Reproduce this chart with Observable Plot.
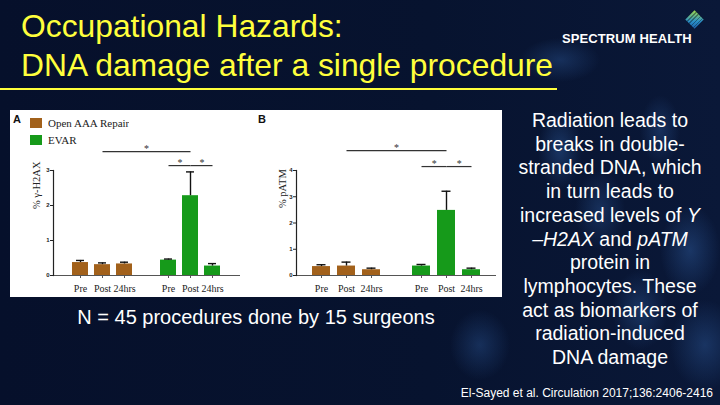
<!DOCTYPE html>
<html>
<head>
<meta charset="utf-8">
<script src="https://cdn.jsdelivr.net/npm/d3@7"></script>
<script src="https://cdn.jsdelivr.net/npm/@observablehq/plot@0.6"></script>
<style>
  html, body { margin: 0; padding: 0; }
  body { width: 720px; height: 405px; overflow: hidden; }
  #slide {
    position: relative; width: 720px; height: 405px; overflow: hidden;
    background:
      radial-gradient(ellipse 22px 40px at 560px 150px, rgba(40,80,140,0.55), rgba(40,80,140,0) 100%),
      radial-gradient(ellipse 30px 45px at 690px 250px, rgba(40,80,140,0.55), rgba(40,80,140,0) 100%),
      radial-gradient(ellipse 28px 40px at 640px 310px, rgba(40,80,140,0.5), rgba(40,80,140,0) 100%),
      radial-gradient(ellipse 35px 45px at 705px 345px, rgba(40,80,140,0.5), rgba(40,80,140,0) 100%),
      radial-gradient(ellipse 30px 35px at 480px 345px, rgba(40,80,140,0.45), rgba(40,80,140,0) 100%),
      radial-gradient(ellipse 40px 22px at 560px 60px, rgba(40,80,140,0.45), rgba(40,80,140,0) 100%),
      radial-gradient(ellipse 25px 40px at 600px 210px, rgba(40,80,140,0.45), rgba(40,80,140,0) 100%),
      radial-gradient(ellipse 20px 35px at 660px 130px, rgba(40,80,140,0.45), rgba(40,80,140,0) 100%),
      linear-gradient(90deg, #06102b 0%, #07132f 60%, #0a1838 100%);
    font-family: "Liberation Sans", Arial, sans-serif;
  }
  .title { position: absolute; left: 21px; color: #ffff3c; font-size: 31.8px; white-space: nowrap; line-height: 1; }
  #rule { position: absolute; left: 0; top: 88px; width: 557px; height: 2px; background: #ffff3c; }
  #logo { position: absolute; left: 562px; top: 31px; color: #fff; font-weight: bold; font-size: 13px; letter-spacing: 0.1px; white-space: nowrap; }
  #logoMark { position: absolute; left: 688px; top: 13px; width: 13px; height: 13px; transform: rotate(45deg);
    background: repeating-linear-gradient(90deg, rgba(255,255,255,0.0) 0 2px, rgba(0,0,0,0.35) 2px 3px),
                linear-gradient(135deg, #9fd84a, #2a8fc8 60%, #1d5fa8); }
  #panel { position: absolute; left: 10px; top: 110px; width: 492px; height: 187px; background: #fff; }
  .plot { position: absolute; top: 0; }
  .letter { position: absolute; font-weight: bold; font-size: 11px; color: #111; }
  .lg-swatch { height: 17.5px; padding: 0 !important; margin: 0 !important; }
  .lg-swatch svg { margin-right: 6px !important; }
  #note { position: absolute; left: 0; width: 512px; top: 306px; text-align: center; color: #fff; font-size: 20px; white-space: nowrap; }
  #side { position: absolute; left: 505px; width: 210px; top: 109px; text-align: center; color: #fff; font-size: 19.5px; line-height: 23.7px; white-space: nowrap; }
  #cite { position: absolute; right: 7px; top: 386px; color: #fff; font-size: 12px; white-space: nowrap; }
</style>
</head>
<body>
<div id="slide">
  <div class="title" style="top:11px">Occupational Hazards:</div>
  <div class="title" style="top:50px">DNA damage after a single procedure</div>
  <div id="rule"></div>
  <div id="logo">SPECTRUM HEALTH</div>
  <div id="logoMark"></div>
  <div id="panel">
    <div class="letter" style="left:3px; top:3px">A</div>
    <div class="letter" style="left:248px; top:3px">B</div>
  </div>
  <div id="note">N = 45 procedures done by 15 surgeons</div>
  <div id="side">Radiation leads to<br>breaks in double-<br>stranded DNA, which<br>in turn leads to<br>increased levels of <i>Y</i><br><i>–H2AX</i> and <i>pATM</i><br>protein in<br>lymphocytes. These<br>act as biomarkers of<br>radiation-induced<br>DNA damage</div>
  <div id="cite">El-Sayed et al. Circulation 2017;136:2406-2416</div>
</div>
<script>
// ---- data ----
const categories = ["Pre", "Post", "24hrs"];
const groups = ["Open AAA Repair", "EVAR"];
const groupColors = ["#a2611b", "#169a1a"];

// Panel A: % γ-H2AX (mean and upper error bar), Open Pre/Post/24hrs then EVAR Pre/Post/24hrs
const h2axMean = [0.37, 0.31, 0.33, 0.44, 2.28, 0.27];
const h2axErr  = [0.43, 0.36, 0.38, 0.47, 2.96, 0.34];
const h2axTicks = [0, 1, 2, 3];

// Panel B: % pATM
const patmMean = [0.34, 0.36, 0.22, 0.36, 2.48, 0.22];
const patmErr  = [0.41, 0.51, 0.28, 0.42, 3.21, 0.28];
const patmTicks = [0, 1, 2, 3, 4];

// significance brackets (level in the panel's y units)
const sigA = [
  {from: "Open AAA Repair|Post", to: "EVAR|Post", level: 3.54},
  {from: "EVAR|Pre", to: "EVAR|Post", level: 3.14},
  {from: "EVAR|Post", to: "EVAR|24hrs", level: 3.14}
];
const sigB = [
  {from: "Open AAA Repair|Post", to: "EVAR|Post", level: 4.76},
  {from: "EVAR|Pre", to: "EVAR|Post", level: 4.15},
  {from: "EVAR|Post", to: "EVAR|24hrs", level: 4.15}
];

const GAP = "gap";
const keysOf = g => categories.map(c => g + "|" + c);
const xDomain = [...keysOf(groups[0]), GAP, ...keysOf(groups[1])];
const barKeys = [...keysOf(groups[0]), ...keysOf(groups[1])];
const serif = "'Liberation Serif', 'Times New Roman', serif";

function panel(cfg) {
  const rows = groups.flatMap((g, gi) => categories.map((c, ci) => ({
    group: g, key: g + "|" + c, mean: cfg.means[gi * 3 + ci], err: cfg.errs[gi * 3 + ci]
  })));
  const span = cfg.width - cfg.marginLeft - cfg.marginRight;
  const step = span / (xDomain.length - cfg.pi + 2 * cfg.po);
  const stars = cfg.sig.map(s => {
    const m = (xDomain.indexOf(s.from) + xDomain.indexOf(s.to)) / 2;
    return {key: xDomain[Math.floor(m)], half: m % 1 !== 0, level: s.level};
  });
  return Plot.plot({
    width: cfg.width, height: cfg.height,
    marginLeft: cfg.marginLeft, marginRight: cfg.marginRight,
    marginTop: cfg.marginTop, marginBottom: cfg.marginBottom,
    style: {background: "transparent", overflow: "visible", color: "#222", fontFamily: serif},
    x: {type: "band", domain: xDomain, paddingInner: cfg.pi, paddingOuter: cfg.po, axis: null},
    y: {domain: [0, d3.max(cfg.ticks)], axis: null},
    color: {domain: groups, range: groupColors},
    marks: [
      Plot.barY(rows, {x: "key", y: "mean", fill: "group"}),
      Plot.ruleX(rows, {x: "key", y1: "mean", y2: "err", stroke: "#111", strokeWidth: 1.4}),
      Plot.tickY(rows, {x: "key", y: "err", stroke: "#111", strokeWidth: 1.4, insetLeft: cfg.capInset, insetRight: cfg.capInset}),
      Plot.ruleY([0], {stroke: "#555", strokeWidth: 1.2}),
      Plot.frame({anchor: "left", stroke: "#222", strokeWidth: 1.2}),
      Plot.axisX({ticks: barKeys, tickFormat: k => k.split("|")[1], tickSize: 3, tickPadding: 6,
        fontSize: 10, fontFamily: serif, stroke: "#555", fill: "#222"}),
      Plot.axisY({ticks: cfg.ticks, tickFormat: d3.format("d"), tickSize: 3, tickPadding: 1, fontSize: 6, fontWeight: "bold",
        fontFamily: "'Liberation Sans', Arial, sans-serif", stroke: "#222", fill: "#222"}),
      Plot.text([cfg.label], {text: d => d, frameAnchor: "left", rotate: -90, dx: cfg.labelDx, dy: cfg.labelDy,
        fontSize: 10.5, fontFamily: serif, fill: "#222"}),
      Plot.link(cfg.sig, {x1: "from", x2: "to", y1: "level", y2: "level", stroke: "#333", strokeWidth: 1.2}),
      Plot.text(stars.filter(s => !s.half), {x: "key", y: "level", text: () => "*", dy: -3, fontSize: 10, fill: "#333"}),
      Plot.text(stars.filter(s => s.half), {x: "key", y: "level", text: () => "*", dx: step / 2, dy: -3, fontSize: 10, fill: "#333"})
    ]
  });
}

const panelEl = document.getElementById("panel");

const plotA = panel({
  means: h2axMean, errs: h2axErr, ticks: h2axTicks, sig: sigA, label: "% γ-H2AX",
  width: 245, height: 187, marginLeft: 43, marginRight: 15, marginTop: 60, marginBottom: 22,
  pi: 0.256, po: 0.72, capInset: 4, labelDx: -17, labelDy: -14
});
plotA.classList.add("plot");
plotA.style.left = "0px";
panelEl.appendChild(plotA);

const plotB = panel({
  means: patmMean, errs: patmErr, ticks: patmTicks, sig: sigB, label: "% pATM",
  width: 247, height: 187, marginLeft: 41, marginRight: 6, marginTop: 60, marginBottom: 22,
  pi: 0.275, po: 0.556, capInset: 4.5, labelDx: -14, labelDy: -15
});
plotB.classList.add("plot");
plotB.style.left = "245px";
panelEl.appendChild(plotB);

const legend = Plot.legend({
  color: {type: "ordinal", domain: groups, range: groupColors},
  legend: "swatches", columns: 1, swatchWidth: 12, swatchHeight: 10, className: "lg",
  style: {fontFamily: serif, fontSize: "11px", color: "#222", background: "transparent"}
});
legend.style.position = "absolute";
legend.style.left = "20px";
legend.style.top = "4px";
legend.style.margin = "0";
panelEl.appendChild(legend);
</script>
</body>
</html>
